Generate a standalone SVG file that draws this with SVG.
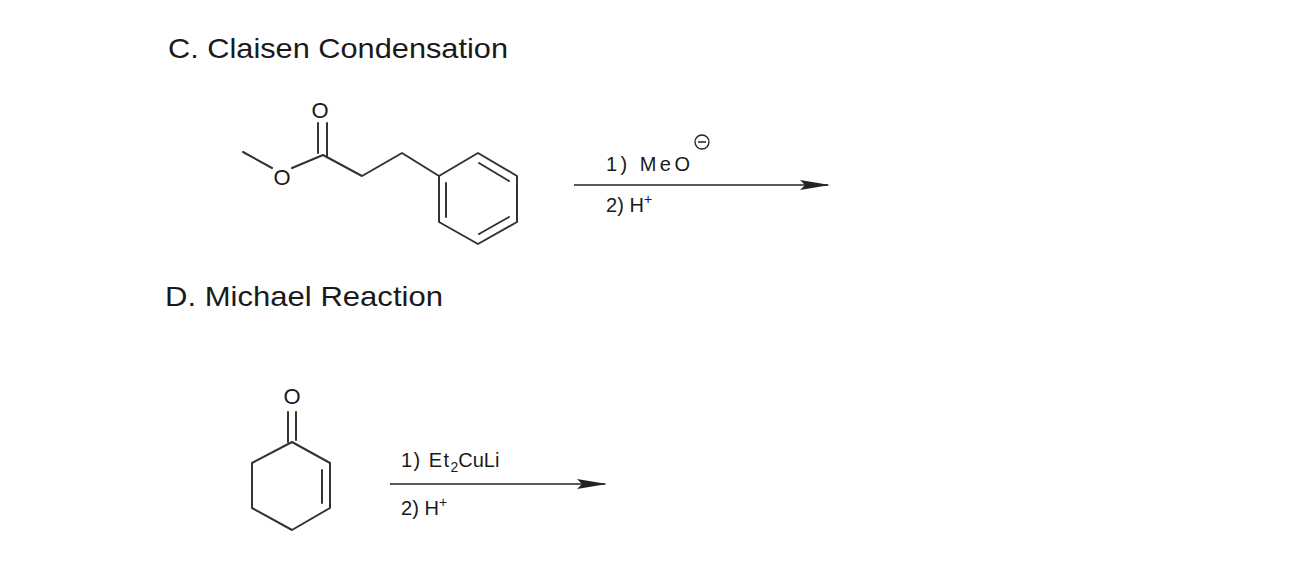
<svg xmlns="http://www.w3.org/2000/svg" width="1292" height="586" viewBox="0 0 1292 586">
<style>
.t{font-family:"Liberation Sans",Arial,sans-serif;fill:#1a1a1a}
.h{font-size:28px}
.r{font-size:20px}
.a{font-size:22px}
.b{stroke:#333;stroke-width:2;fill:none;stroke-linecap:round;stroke-linejoin:round}
.ar{stroke:#222;stroke-width:1.5}
</style>
<defs><marker id="ah" markerWidth="30" markerHeight="10" refX="28" refY="5" orient="auto" markerUnits="userSpaceOnUse"><path d="M0,0 L30,5 L0,10 L5,5 Z" fill="#222"/></marker></defs>
<rect width="1292" height="586" fill="#fff"/>
<text class="t h" x="168" y="58" textLength="340" lengthAdjust="spacingAndGlyphs">C. Claisen Condensation</text>
<text class="t h" x="165" y="306" textLength="278" lengthAdjust="spacingAndGlyphs">D. Michael Reaction</text>
<g id="ester">
<polyline class="b" points="243,152 272,168"/>
<polyline class="b" points="292,168 323,155 362,176 402,153 439,176"/>
<line class="b" x1="318" y1="123" x2="318" y2="153"/>
<line class="b" x1="327" y1="123" x2="327" y2="157"/>
<text class="t a" x="320" y="118" text-anchor="middle">O</text>
<text class="t a" x="282" y="185" text-anchor="middle">O</text>
<polygon class="b" points="439,176 478,153 517,176 517,222 478,244 439,222"/>
<line class="b" x1="446" y1="183" x2="446" y2="217"/>
<line class="b" x1="479" y1="163" x2="509" y2="181"/>
<line class="b" x1="509" y1="217" x2="479" y2="234"/>
</g>
<g id="enone">
<text class="t a" x="292" y="404" text-anchor="middle">O</text>
<line class="b" x1="288" y1="412" x2="288" y2="442"/>
<line class="b" x1="296" y1="412" x2="296" y2="440"/>
<polygon class="b" points="292,442 330,463 330,508 292,530 252,508 252,463"/>
<line class="b" x1="322" y1="470" x2="322" y2="503"/>
</g>
<g id="connectors">
<line class="ar" x1="574" y1="185" x2="828" y2="185" marker-end="url(#ah)"/>
<line class="ar" x1="390" y1="484" x2="605" y2="484" marker-end="url(#ah)"/>
</g>
<g id="reagents1">
<text class="t r" x="606" y="171" textLength="84" lengthAdjust="spacing">1)  MeO</text>
<circle cx="702" cy="142" r="7" fill="none" stroke="#222" stroke-width="1.3"/>
<line x1="698" y1="142" x2="706" y2="142" stroke="#222" stroke-width="1.5"/>
<text class="t r" x="606" y="212"><tspan textLength="38" lengthAdjust="spacing">2)  H</tspan><tspan font-size="14" dy="-8">+</tspan></text>
</g>
<g id="reagents2">
<text class="t r" x="401" y="467"><tspan textLength="48" lengthAdjust="spacing">1)  Et</tspan><tspan font-size="14" dy="5">2</tspan><tspan dy="-5">CuLi</tspan></text>
<text class="t r" x="401" y="515"><tspan textLength="38" lengthAdjust="spacing">2)  H</tspan><tspan font-size="14" dy="-8">+</tspan></text>
</g>
</svg>
